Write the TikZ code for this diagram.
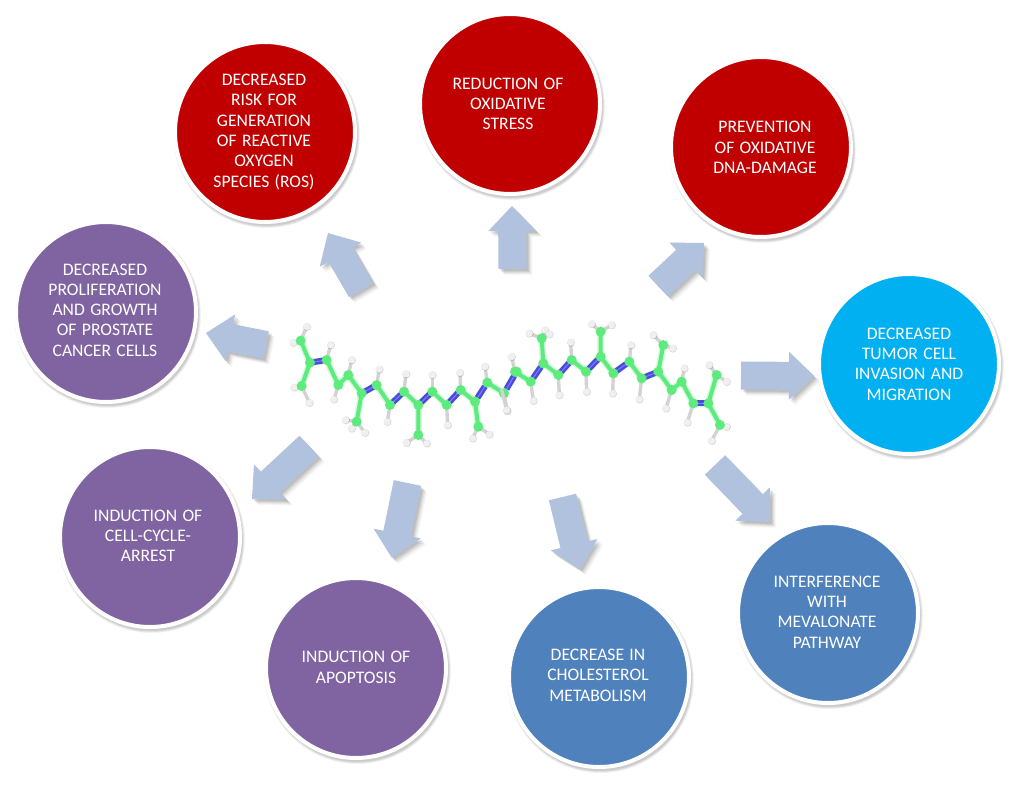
\documentclass[tikz,border=0pt]{standalone}
\usepackage{fontspec}
\setmainfont{Carlito}[WordSpace=1.35]
\usetikzlibrary{calc}
\definecolor{cred}{HTML}{C00000}
\definecolor{ccyan}{HTML}{00B0F0}
\definecolor{cblue}{HTML}{4F81BD}
\definecolor{cpurple}{HTML}{8064A2}
\definecolor{arrowfill}{HTML}{B0C2DD}
\definecolor{carbon}{HTML}{5CEB7C}
\definecolor{nitro}{HTML}{4A4AE0}
\definecolor{nitrolight}{HTML}{8080F0}
\definecolor{hydro}{HTML}{F0F0F0}
\tikzset{
  disc/.style={circle,draw=white,line width=4pt,fill=#1,minimum size=180pt,inner sep=0pt},
  lbl/.style={text=white,align=center,inner sep=0pt,font=\fontsize{17.6pt}{20.3pt}\selectfont},
  cbond/.style={draw=carbon,line width=4pt,line cap=round,line join=round},
  chalo/.style={draw=carbon,opacity=.25,line width=7pt,line cap=round,line join=round},
  nbond/.style={draw=nitro,line width=6pt},
  nmid/.style={draw=nitrolight,line width=1pt},
  hbond/.style={draw=hydro!88!black,line width=3.4pt,line cap=round},
}
\newcommand\discshadow[1]{%
  \foreach \r in {93.5,93,92.5,92,91.5,91}{\fill[black,opacity=.035] ($(#1)+(1.5,2.5)$) circle (\r);}}
% block arrow from a tail coordinate to a tip coordinate
\newcommand\blockarrow[2]{%
  \coordinate (hb) at ($(#2)!25pt!(#1)$);
  \coordinate (p1) at ($(#1)!14pt!90:(#2)$);
  \coordinate (p2) at ($(hb)!14pt!-90:(#1)$);
  \coordinate (p3) at ($(hb)!24pt!-90:(#1)$);
  \coordinate (p4) at ($(hb)!24pt!90:(#1)$);
  \coordinate (p5) at ($(hb)!14pt!90:(#1)$);
  \coordinate (p6) at ($(#1)!14pt!-90:(#2)$);
  \foreach \d/\o in {6/.03,5/.04,4/.06,3/.07,2/.08}{
    \fill[black,opacity=\o] ($(p1)+(\d,\d)$) -- ($(p2)+(\d,\d)$) -- ($(p3)+(\d,\d)$) -- ($(#2)+(\d,\d)$) -- ($(p4)+(\d,\d)$) -- ($(p5)+(\d,\d)$) -- ($(p6)+(\d,\d)$) -- cycle;}
  \fill[arrowfill] (p1) -- (p2) -- (p3) -- (#2) -- (p4) -- (p5) -- (p6) -- cycle;}
\begin{document}
\begin{tikzpicture}[x=1pt,y=-1pt]
\useasboundingbox (0,0) rectangle (1024,789);
\fill[white] (0,0) rectangle (1024,789);
\coordinate (cA) at (265,132);
\coordinate (cB) at (510,104);
\coordinate (cC) at (761,147);
\coordinate (cD) at (909,364);
\coordinate (cE) at (828,613);
\coordinate (cF) at (599,677);
\coordinate (cG) at (356,668);
\coordinate (cH) at (150,537);
\coordinate (cI) at (106,312);
\foreach \c in {cA,cB,cC,cD,cE,cF,cG,cH,cI}{\discshadow{\c}}
\node[disc=cred] (discA) at (cA) {};
\node[disc=cred] (discB) at (cB) {};
\node[disc=cred] (discC) at (cC) {};
\node[disc=ccyan] (discD) at (cD) {};
\node[disc=cblue] (discE) at (cE) {};
\node[disc=cblue] (discF) at (cF) {};
\node[disc=cpurple] (discG) at (cG) {};
\node[disc=cpurple] (discH) at (cH) {};
\node[disc=cpurple] (discI) at (cI) {};
\node[lbl] (tA) at (264,131.8) {DECREASED\\RISK FOR\\GENERATION\\OF REACTIVE\\OXYGEN\\SPECIES (ROS)};
\node[lbl] (tB) at (508,103.8) {REDUCTION OF\\OXIDATIVE\\STRESS};
\node[lbl] (tC) at (765,147.5) {PREVENTION\\OF OXIDATIVE\\DNA-DAMAGE};
\node[lbl] (tD) at (909,364) {DECREASED\\TUMOR CELL\\INVASION AND\\MIGRATION};
\node[lbl] (tE) at (827,612) {INTERFERENCE\\WITH\\MEVALONATE\\PATHWAY};
\node[lbl] (tF) at (598,675.3) {DECREASE IN\\CHOLESTEROL\\METABOLISM};
\node[lbl] (tG) at (356,667.3) {INDUCTION OF\\APOPTOSIS};
\node[lbl] (tH) at (148,536) {INDUCTION OF\\CELL-CYCLE-\\ARREST};
\node[lbl] (tI) at (105,310) {DECREASED\\PROLIFERATION\\AND GROWTH\\OF PROSTATE\\CANCER CELLS};
\coordinate (aAt) at (361,290); \coordinate (aAh) at (328,233);
\coordinate (aBt) at (512.5,269); \coordinate (aBh) at (512,206);
\coordinate (aCt) at (658,286); \coordinate (aCh) at (704,243);
\coordinate (aDt) at (741,375.5); \coordinate (aDh) at (814,376);
\coordinate (aEt) at (715,465); \coordinate (aEh) at (770,522);
\coordinate (aFt) at (562.5,497); \coordinate (aFh) at (580,569);
\coordinate (aGt) at (407.5,483); \coordinate (aGh) at (392,558);
\coordinate (aHt) at (309,446); \coordinate (aHh) at (252,499);
\coordinate (aIt) at (266,345); \coordinate (aIh) at (206,333);
\blockarrow{aAt}{aAh}
\blockarrow{aBt}{aBh}
\blockarrow{aCt}{aCh}
\blockarrow{aDt}{aDh}
\blockarrow{aEt}{aEh}
\blockarrow{aFt}{aFh}
\blockarrow{aGt}{aGh}
\blockarrow{aHt}{aHh}
\blockarrow{aIt}{aIh}
\begin{scope}[shift={(280,310)},x=.3333pt,y=-.3333pt]
  \foreach \a/\b/\c/\d in {62/92/80/50,62/92/40/98,65/228/42/232,65/228/88/278,140/150/152/105,175/225/162/268,205/195/215/150,230/335/197/330,230/335/215/355,230/335/255/368,290/225/298/178,330/285/322/335,372/245/378/192,415/375/380/398,415/375/440/400,457/245/457/195,500/285/503/345,542/240/540/188,595/350/578/385,595/350/628/373,622/218/615/170,672/250/682/303}{
    \draw[hbond] (\a,\b) -- (\c,\d);
    \fill[black,opacity=.15] (\c+1,\d+1) circle (12);
    \fill[hydro] (\c,\d) circle (10.5);}
  \def\backL{(62,92) -- (90,158) -- (65,228) (90,158) -- (140,150) -- (175,225) -- (205,195) -- (245,250) -- (230,335) (245,250) -- (290,225) -- (330,285) -- (372,245) -- (415,285) -- (415,375) (415,285) -- (457,245) -- (500,285) -- (542,240) -- (585,275) -- (595,350) (585,275) -- (622,218) -- (672,250) -- (710,185)}
  \draw[chalo] \backL;
  \draw[cbond] \backL;
  \foreach \a/\b/\c/\d in {90/158/140/150,245/250/290/225,330/285/372/245,415/285/457/245,500/285/542/240,585/275/622/218,672/250/710/185}{
    \draw[nbond] ($(\a,\b)!.2!(\c,\d)$) -- ($(\a,\b)!.8!(\c,\d)$);
    \draw[nmid] ($(\a,\b)!.2!(\c,\d)$) -- ($(\a,\b)!.8!(\c,\d)$);}
  \foreach \a/\b in {62/92,90/158,65/228,140/150,175/225,205/195,245/250,230/335,290/225,330/285,372/245,415/285,415/375,457/245,500/285,542/240,585/275,595/350,622/218,672/250,710/185}{
    \fill[carbon] (\a,\b) circle (15);}
\end{scope}
\begin{scope}[shift={(500,310)},x=.3333pt,y=-.3333pt]
  \foreach \a/\b/\c/\d in {45/185/35/140,92/215/100/272,125/85/88/70,125/85/135/60,125/85/148/72,175/195/178/255,215/150/212/97,258/185/260/245,302/65/275/42,302/65/335/45,340/190/338/250,388/155/393/105,425/205/418/268,490/105/460/75,490/105/518/115,515/240/498/295,545/215/553/175,580/280/562/337,650/195/628/165,650/195/680/215,660/345/680/350,660/345/635/392,5/240/20/300}{
    \draw[hbond] (\a,\b) -- (\c,\d);
    \fill[black,opacity=.15] (\c+1,\d+1) circle (12);
    \fill[hydro] (\c,\d) circle (10.5);}
  \def\backR{(45,185) -- (92,215) -- (130,160) -- (125,85) (130,160) -- (175,195) -- (215,150) -- (258,185) -- (302,140) -- (302,65) (302,140) -- (340,190) -- (388,155) -- (425,205) -- (475,185) -- (490,105) (475,185) -- (515,240) -- (545,215) -- (580,280) -- (625,280) -- (650,195) (625,280) -- (660,345)}
  \draw[chalo] \backR;
  \draw[cbond] \backR;
  \foreach \a/\b/\c/\d in {92/215/130/160,175/195/215/150,258/185/302/140,340/190/388/155,425/205/475/185,580/280/625/280}{
    \draw[nbond] ($(\a,\b)!.2!(\c,\d)$) -- ($(\a,\b)!.8!(\c,\d)$);
    \draw[nmid] ($(\a,\b)!.2!(\c,\d)$) -- ($(\a,\b)!.8!(\c,\d)$);}
  \foreach \a/\b in {45/185,92/215,130/160,125/85,175/195,215/150,258/185,302/140,302/65,340/190,388/155,425/205,475/185,490/105,515/240,545/215,580/280,625/280,650/195,660/345}{
    \fill[carbon] (\a,\b) circle (15);}
\end{scope}
\end{tikzpicture}
\end{document}
